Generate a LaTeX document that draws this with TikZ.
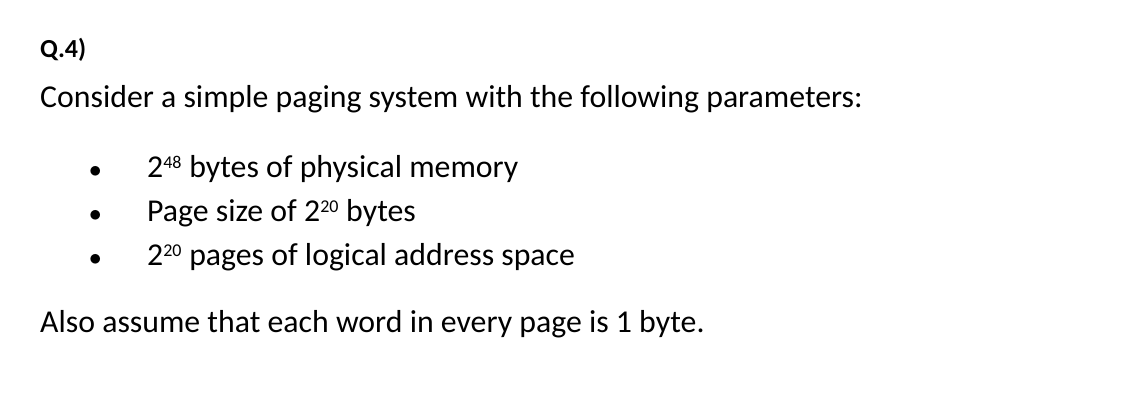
\documentclass[tikz,border=0pt]{standalone}
\usepackage{fontspec}
\setmainfont{Carlito}
\newcommand{\sps}[1]{\textsuperscript{\fontsize{18}{20}\selectfont #1}}
\begin{document}
\begin{tikzpicture}[x=1pt,y=1pt,txt/.style={anchor=base west,inner sep=0pt,font=\fontsize{31.8}{36}\selectfont}]
\useasboundingbox (0,0) rectangle (1144,406);
\node[txt,font=\fontsize{26}{30}\selectfont\bfseries] (q) at (40,348) {Q.4)};
\node[txt] (c) at (40,298) {Consider a simple paging system with the following parameters:};
\node[txt,font=\fontsize{30}{30}\selectfont] (b1) at (89,228) {$\bullet$};
\node[txt] (l1) at (147,228) {2\sps{48} bytes of physical memory};
\node[txt,font=\fontsize{30}{30}\selectfont] (b2) at (89,184) {$\bullet$};
\node[txt] (l2) at (147,184) {Page size of 2\sps{20} bytes};
\node[txt,font=\fontsize{30}{30}\selectfont] (b3) at (89,140) {$\bullet$};
\node[txt] (l3) at (147,140) {2\sps{20} pages of logical address space};
\node[txt] (a) at (40,73) {Also assume that each word in every page is 1 byte.};
\end{tikzpicture}
\end{document}
